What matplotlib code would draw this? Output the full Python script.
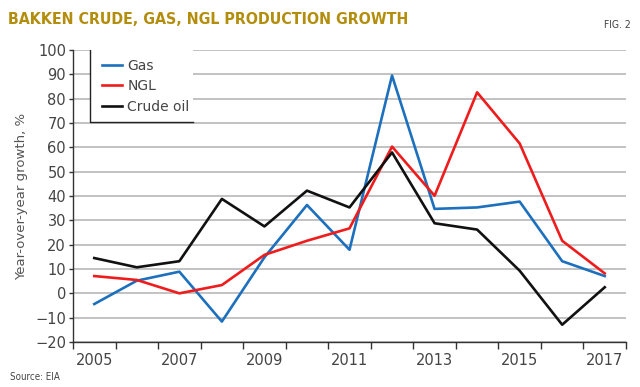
import matplotlib
matplotlib.use("Agg")
import matplotlib.pyplot as plt
from matplotlib import font_manager as fm
from matplotlib.patches import Rectangle
from matplotlib.lines import Line2D
import numpy as np

years = [2005, 2006, 2007, 2008, 2009, 2010, 2011, 2012, 2013, 2014, 2015, 2016, 2017]
gas = [-4.4, 5.2, 8.9, -11.6, 14.8, 36.3, 17.9, 89.5, 34.7, 35.3, 37.7, 13.2, 7.1]
ngl = [7.1, 5.5, 0.0, 3.4, 15.8, 21.6, 26.7, 60.3, 40.1, 82.6, 61.6, 21.6, 8.2]
crude = [14.5, 10.7, 13.2, 38.8, 27.5, 42.2, 35.3, 57.9, 28.8, 26.2, 9.3, -12.9, 2.5]
yticks = list(range(-20, 101, 10))

# look for condensed fonts for the title and small notes
cond = []
for f in fm.fontManager.ttflist:
    nm = (f.name + " " + f.fname).lower()
    if "narrow" in nm or "condensed" in nm or "cond" in str(f.stretch):
        cond.append(f)
def wnum(f):
    w = f.weight
    if isinstance(w, int):
        return w
    return {"normal": 400, "regular": 400, "book": 400, "medium": 500,
            "semibold": 600, "demibold": 600, "bold": 700, "heavy": 800,
            "black": 900, "light": 300}.get(str(w).lower(), 400)
upright = [f for f in cond if f.style == "normal" and "italic" not in f.fname.lower()]
bold_cond = sorted([f for f in upright if wnum(f) >= 700], key=lambda f: (wnum(f), f.fname))
plain_cond = sorted([f for f in upright if wnum(f) == 400], key=lambda f: f.fname)
if bold_cond:
    title_fp = fm.FontProperties(fname=bold_cond[0].fname)
elif upright:
    title_fp = fm.FontProperties(fname=upright[0].fname)
else:
    title_fp = fm.FontProperties(family="DejaVu Sans", weight="bold")
if plain_cond:
    small_fp = fm.FontProperties(fname=plain_cond[0].fname)
else:
    small_fp = fm.FontProperties(family="DejaVu Sans")

fig = plt.figure(figsize=(6.4, 3.87), dpi=100)
ax = fig.add_axes([73/640, 1-342/387, 553/640, 292/387])

x = np.arange(len(years))
ax.plot(x, gas, color="#1c70bd", lw=1.9, label="Gas", zorder=3)
ax.plot(x, ngl, color="#ee1c1c", lw=1.9, label="NGL", zorder=3)
ax.plot(x, crude, color="#111111", lw=1.9, label="Crude oil", zorder=3)

ax.set_xlim(-0.5, len(years)-0.5)
ax.set_ylim(-20, 100)
ax.set_yticks(yticks)
ax.set_yticklabels([("\u2212" + str(-v)) if v < 0 else str(v) for v in yticks])
ax.set_xticks(np.arange(-0.5, len(years)), minor=False)
ax.set_xticklabels([])
ax.set_xticks(x[::2], minor=True)
ax.set_xticklabels([str(y) for y in years[::2]], minor=True)
ax.tick_params(axis="x", which="major", length=5, width=1, color="#333333", direction="out")
ax.tick_params(axis="x", which="minor", length=0, pad=8, labelsize=10.5, labelcolor="#444444")
ax.tick_params(axis="y", length=3, width=1, color="#333333", labelsize=10.5, labelcolor="#444444", pad=2)
for s in ["top", "right"]:
    ax.spines[s].set_visible(False)
for s in ["left", "bottom"]:
    ax.spines[s].set_color("#333333")
    ax.spines[s].set_linewidth(1)
ax.grid(axis="y", color="#b8b8b8", lw=1.2)
ax.set_axisbelow(True)

# legend box
lx0, lx1, ly0 = (90-73)/553, (193-73)/553, (342-122)/292
ax.add_patch(Rectangle((lx0, ly0), lx1-lx0, 1-ly0, transform=ax.transAxes,
                       facecolor="white", edgecolor="none", zorder=2))
ax.add_line(Line2D([lx0, lx0, lx1], [1, ly0, ly0], transform=ax.transAxes,
                   color="#222222", lw=1, zorder=2.5))
leg = ax.legend(loc="upper left", bbox_to_anchor=(lx0+0.006, 1.0), frameon=False,
                fontsize=10, handlelength=1.4, handletextpad=0.4, labelspacing=0.45,
                borderaxespad=0.25)
for t in leg.get_texts():
    t.set_color("#444444")

ax.set_ylabel("Year-over-year growth, %", fontsize=9.5, color="#555555", labelpad=5)

tp = title_fp.copy()
tp.set_size(15)
title = fig.text(8/640, 1-19/387, "BAKKEN CRUDE, GAS, NGL PRODUCTION GROWTH",
                 fontproperties=tp, color="#b38d0c", va="center", ha="left")
# fit title width to ~402 px
fig.canvas.draw()
w = title.get_window_extent().width
if w > 405:
    tp.set_size(15 * 402 / w)
    title.set_fontproperties(tp)

sp = small_fp.copy()
sp.set_size(7.5)
fig.text(631/640, 1-25/387, "FIG. 2", fontproperties=sp, color="#444444", va="center", ha="right")
sp2 = small_fp.copy()
sp2.set_size(7)
fig.text(10/640, 1-377/387, "Source: EIA", fontproperties=sp2, color="#444444", va="center", ha="left")

fig.savefig("out.png", dpi=100)
